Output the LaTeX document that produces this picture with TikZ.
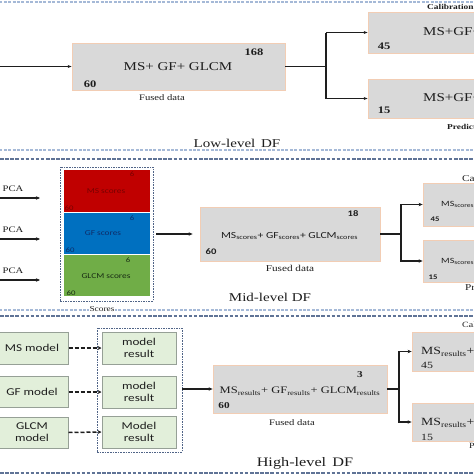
\documentclass[tikz,border=0pt]{standalone}
\usepackage{fontspec}
\setmainfont{Liberation Serif}[FakeStretch=1.25]
\setsansfont{Carlito}[FakeStretch=1.25]
\usetikzlibrary{arrows.meta,fit,calc}
\definecolor{boxgray}{RGB}{217,217,217}
\definecolor{boxedge}{RGB}{242,205,180}
\definecolor{sepLight}{RGB}{165,185,215}
\definecolor{sepDark}{RGB}{95,115,150}
\definecolor{msred}{RGB}{192,0,0}
\definecolor{msredtxt}{RGB}{120,0,0}
\definecolor{gfblue}{RGB}{0,112,192}
\definecolor{gfbluetxt}{RGB}{15,45,105}
\definecolor{glgreen}{RGB}{112,173,71}
\definecolor{glgreentxt}{RGB}{25,45,20}
\definecolor{mdlfill}{RGB}{226,239,218}
\definecolor{mdledge}{RGB}{150,160,150}
\definecolor{dotedge}{RGB}{80,100,135}
\definecolor{ink}{RGB}{30,30,30}
\begin{document}
\begin{tikzpicture}[x=1pt,y=-1pt,
  graybox/.style={draw=boxedge,fill=boxgray,line width=0.8pt,inner sep=0pt},
  colbox/.style={draw=none,fill=#1,inner sep=0pt},
  mdlbox/.style={draw=mdledge,fill=mdlfill,line width=1pt,inner sep=0pt},
  dotbox/.style={draw=dotedge,dash pattern=on 1.6pt off 1pt,line width=0.8pt,inner sep=0pt},
  sepL/.style={draw=sepLight,line width=1.3pt,dash pattern=on 3pt off 1.4pt},
  sepD/.style={draw=sepDark,line width=1.3pt,dash pattern=on 3.5pt off 1.6pt},
  txt/.style={inner sep=0pt,text=ink},
  lft/.style={inner sep=0pt,text=ink,anchor=west},
  conn/.style={draw=ink,line width=1.2pt},
  arr/.style={draw=ink,line width=1.1pt,-{Stealth[length=4pt,width=3.5pt]}},
  thinarr/.style={draw=ink,line width=0.8pt,-{Stealth[length=4pt,width=3pt]}},
  darr/.style={draw=ink,line width=1.5pt,dash pattern=on 4pt off 2pt,-{Stealth[length=4pt,width=4pt]}},
]
\useasboundingbox (0,0) rectangle (474,474);
\clip (0,0) rectangle (474,474);
\fill[white] (0,0) rectangle (474,474);

% panel borders
\draw[sepL] (-5,2) -- (480,2);
\draw[sepL] (-5,150) -- (480,150);
\draw[sepD] (-5,159) -- (480,159);
\draw[sepL] (-5,310) -- (480,310);
\draw[sepD] (-5,316) -- (480,316);
\draw[sepD] (-5,473) -- (480,473);

% ---------------- Low-level ----------------
\node[graybox, fit={(72,43)(285,90)}] (fusedL) {};
\node[txt, font=\fontsize{12}{14}\selectfont] (fusedLt) at (178,67) {MS+ GF+ GLCM};
\node[txt, font=\fontsize{10}{12}\selectfont\bfseries] (fusedLn) at (254,52) {168};
\node[txt, font=\fontsize{10}{12}\selectfont\bfseries] (fusedLm) at (90,84) {60};
\node[txt, font=\fontsize{8.5}{10}\selectfont] (fusedLf) at (162,98) {Fused data};

\node[graybox, fit={(368,12)(560,53)}] (calL) {};
\node[graybox, fit={(368,79)(560,118)}] (predL) {};
\node[lft, font=\fontsize{12}{14}\selectfont] (calLt) at (423,32) {MS+GF+GLCM};
\node[lft, font=\fontsize{12}{14}\selectfont] (predLt) at (423,98) {MS+GF+GLCM};
\node[txt, font=\fontsize{10}{12}\selectfont\bfseries] (calLn) at (384,46) {45};
\node[txt, font=\fontsize{10}{12}\selectfont\bfseries] (predLn) at (384,110) {15};
\node[lft, font=\fontsize{7.5}{9}\selectfont\bfseries] (calLl) at (427,7) {Calibration};
\node[lft, font=\fontsize{7.5}{9}\selectfont\bfseries] (predLl) at (447,127) {Prediction};
\node[txt, font=\fontsize{12}{14}\selectfont] (lowT) at (237,143) {Low-level\, DF};

\coordinate (inL) at (-5,66.5);
\coordinate (jL) at (326,66.5);
\draw[thinarr] (inL) -- (fusedL.west);
\draw[conn] (fusedL.east) -- (jL);
\draw[thinarr] (jL) |- (calL.west);
\draw[thinarr] (jL) |- (predL.west);
\draw[conn] (jL) -- (jL |- calL.west);
\draw[conn] (jL) -- (jL |- predL.west);

% ---------------- Mid-level ----------------
\coordinate (pca1s) at (-5,198);
\coordinate (pca1e) at (40,198);
\coordinate (pca2s) at (-5,239);
\coordinate (pca2e) at (40,239);
\coordinate (pca3s) at (-5,280);
\coordinate (pca3e) at (40,280);
\draw[arr] (pca1s) -- (pca1e);
\draw[arr] (pca2s) -- (pca2e);
\draw[arr] (pca3s) -- (pca3e);
\node[txt, font=\fontsize{8.5}{10}\selectfont] (pca1) at (13,189) {PCA};
\node[txt, font=\fontsize{8.5}{10}\selectfont] (pca2) at (13,230) {PCA};
\node[txt, font=\fontsize{8.5}{10}\selectfont] (pca3) at (13,271) {PCA};

\node[dotbox, fit={(60,167)(153,301)}] (scores) {};
\node[colbox=msred, fit={(64,170)(150,212)}] (msS) {};
\node[colbox=gfblue, fit={(64,213)(150,254)}] (gfS) {};
\node[colbox=glgreen, fit={(64,255)(150,296)}] (glS) {};
\node[txt, text=msredtxt, font=\sffamily\fontsize{7.5}{9}\selectfont] (msSt) at (106,191) {MS scores};
\node[txt, text=msredtxt, font=\sffamily\fontsize{7}{8}\selectfont] (msSn) at (132,174) {6};
\node[txt, text=msredtxt, font=\sffamily\fontsize{7}{8}\selectfont] (msSm) at (69,208) {60};
\node[txt, text=gfbluetxt, font=\sffamily\fontsize{7.5}{9}\selectfont] (gfSt) at (103,233) {GF scores};
\node[txt, text=gfbluetxt, font=\sffamily\fontsize{7}{8}\selectfont] (gfSn) at (132,218) {6};
\node[txt, text=gfbluetxt, font=\sffamily\fontsize{7}{8}\selectfont] (gfSm) at (70,250) {60};
\node[txt, text=glgreentxt, font=\sffamily\fontsize{7.5}{9}\selectfont] (glSt) at (106,276) {GLCM scores};
\node[txt, text=glgreentxt, font=\sffamily\fontsize{7}{8}\selectfont] (glSn) at (128,260) {6};
\node[txt, text=glgreentxt, font=\sffamily\fontsize{7}{8}\selectfont] (glSm) at (71,293) {60};

\node[graybox, fit={(200,207)(380,261)}] (fusedM) {};
\node[txt, font=\sffamily\fontsize{9.3}{11}\selectfont] (fusedMt) at (289.5,236) {MS\textsubscript{scores}+ GF\textsubscript{scores}+ GLCM\textsubscript{scores}};
\node[txt, font=\sffamily\fontsize{8.5}{10}\selectfont\bfseries] (fusedMn) at (353,214) {18};
\node[txt, font=\sffamily\fontsize{8.5}{10}\selectfont\bfseries] (fusedMm) at (211,252) {60};
\node[txt, font=\fontsize{9}{11}\selectfont] (fusedMf) at (290,268) {Fused data};

\node[graybox, fit={(423,183)(560,226)}] (calM) {};
\node[graybox, fit={(423,240)(560,282)}] (predM) {};
\node[lft, font=\sffamily\fontsize{8}{10}\selectfont] (calMt) at (441,204) {MS\textsubscript{scores}+ GF\textsubscript{scores}+ GLCM\textsubscript{scores}};
\node[lft, font=\sffamily\fontsize{8}{10}\selectfont] (predMt) at (441,261) {MS\textsubscript{scores}+ GF\textsubscript{scores}+ GLCM\textsubscript{scores}};
\node[txt, font=\sffamily\fontsize{7}{8}\selectfont\bfseries] (calMn) at (435,219) {45};
\node[txt, font=\sffamily\fontsize{7}{8}\selectfont\bfseries] (predMn) at (433,277) {15};
\node[lft, font=\fontsize{9}{11}\selectfont] (calMl) at (462,178) {Calibration};
\node[lft, font=\fontsize{9}{11}\selectfont] (predMl) at (465,287) {Prediction};
\node[txt, font=\fontsize{12}{14}\selectfont] (midT) at (270,297) {Mid-level DF};

\coordinate (jM) at (401,234);
\draw[arr, shorten <=3pt, shorten >=7pt] (scores.east |- fusedM.west) -- (fusedM.west);
\draw[conn] (fusedM.east) -- (jM);
\draw[conn] (jM |- calM.west) -- (jM |- predM.west);
\draw[arr] (jM) |- (calM.west);
\draw[arr] (jM) |- (predM.west);

\node[txt, fill=white, inner xsep=1pt, font=\fontsize{7.5}{9}\selectfont] (scoresT) at (102,309) {Scores};

% ---------------- High-level ----------------
\node[mdlbox, fit={(-4,332)(68,364)}] (msMod) {};
\node[mdlbox, fit={(-4,376)(68,407)}] (gfMod) {};
\node[mdlbox, fit={(-4,417)(68,448)}] (glMod) {};
\node[txt, font=\sffamily\fontsize{10.5}{12}\selectfont] (msModt) at (32,348) {MS model};
\node[txt, font=\sffamily\fontsize{10.5}{12}\selectfont] (gfModt) at (32,391.5) {GF model};
\node[txt, align=center, font=\sffamily\fontsize{10.5}{12}\selectfont] (glModt) at (32,432.5) {GLCM\\model};

\node[dotbox, fit={(97,328)(182,452)}] (results) {};
\node[mdlbox, fit={(102,332)(176,364)}] (res1) {};
\node[mdlbox, fit={(102,376)(176,408)}] (res2) {};
\node[mdlbox, fit={(102,416)(176,448)}] (res3) {};
\node[txt, align=center, font=\sffamily\fontsize{10.5}{12}\selectfont] (res1t) at (139,348) {model\\result};
\node[txt, align=center, font=\sffamily\fontsize{10.5}{12}\selectfont] (res2t) at (139,392) {model\\result};
\node[txt, align=center, font=\sffamily\fontsize{10.5}{12}\selectfont] (res3t) at (139,432) {Model\\result};

\draw[darr] (msMod.east) -- (res1.west);
\draw[darr] (gfMod.east |- res2.west) -- (res2.west);
\draw[darr] (glMod.east) -- (res3.west);

\node[graybox, fit={(213,365)(387,413)}] (fusedH) {};
\node[txt, font=\fontsize{10}{12}\selectfont] (fusedHt) at (300,391) {MS\textsubscript{results}+ GF\textsubscript{results}+ GLCM\textsubscript{results}};
\node[txt, font=\fontsize{9}{11}\selectfont\bfseries] (fusedHn) at (360,375) {3};
\node[txt, font=\fontsize{9}{11}\selectfont\bfseries] (fusedHm) at (224,406) {60};
\node[txt, font=\fontsize{8.5}{10}\selectfont] (fusedHf) at (292,423) {Fused data};

\node[graybox, fit={(412,332)(560,371)}] (calH) {};
\node[graybox, fit={(412,403)(560,441)}] (predH) {};
\node[lft, font=\fontsize{11}{13}\selectfont] (calHt) at (421,352) {MS\textsubscript{results}+ GF\textsubscript{results}+ GLCM\textsubscript{results}};
\node[lft, font=\fontsize{11}{13}\selectfont] (predHt) at (421,423) {MS\textsubscript{results}+ GF\textsubscript{results}+ GLCM\textsubscript{results}};
\node[lft, font=\fontsize{9.5}{11}\selectfont] (calHn) at (421,365) {45};
\node[lft, font=\fontsize{9.5}{11}\selectfont] (predHn) at (421,437) {15};
\node[lft, font=\fontsize{8}{10}\selectfont] (calHl) at (462,325) {Calibration};
\node[lft, font=\fontsize{8}{10}\selectfont] (predHl) at (469,446) {Prediction};
\node[txt, font=\fontsize{13}{15}\selectfont] (highT) at (305,463) {High-level\, DF};

\coordinate (jH) at (399,389);
\draw[arr] (results.east |- fusedH.west) -- (fusedH.west);
\draw[conn] (fusedH.east |- jH) -- (jH);
\draw[conn] (jH |- calH.west) -- (jH |- predH.west);
\draw[arr] (jH) |- (calH.west);
\draw[arr] (jH) |- (predH.west);
\end{tikzpicture}
\end{document}
